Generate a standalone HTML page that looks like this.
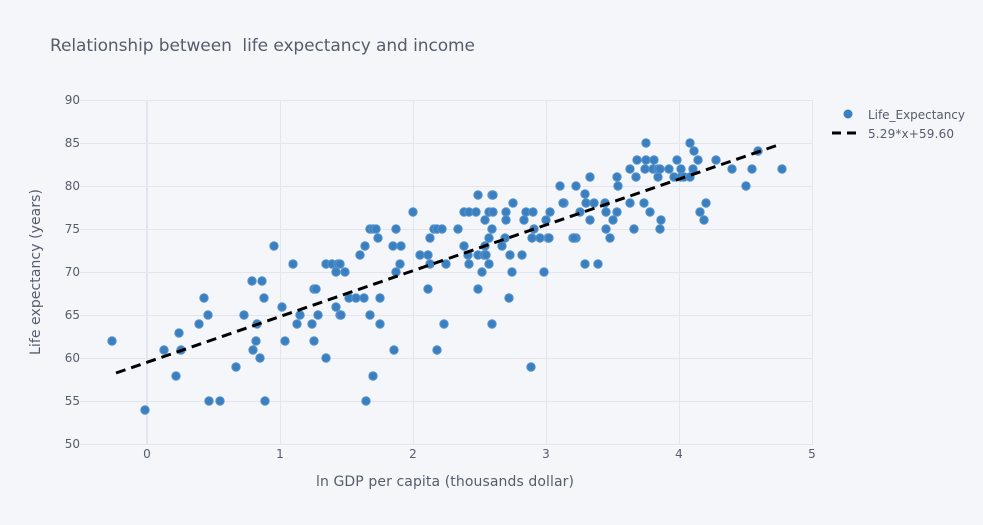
<!DOCTYPE html>
<html><head><meta charset="utf-8"><style>
html,body{margin:0;padding:0;background:#f5f6fa;}
svg{display:block;font-family:"DejaVu Sans","Liberation Sans",sans-serif;}
</style></head><body>
<svg id="s" width="983" height="525" viewBox="0 0 983 525" xmlns="http://www.w3.org/2000/svg">
<rect width="983" height="525" fill="#f5f6fa"/>
<g stroke="#e3e6ee" stroke-width="1">
<line x1="80" x2="813" y1="100.5" y2="100.5"/>
<line x1="80" x2="813" y1="143.5" y2="143.5"/>
<line x1="80" x2="813" y1="186.5" y2="186.5"/>
<line x1="80" x2="813" y1="229.5" y2="229.5"/>
<line x1="80" x2="813" y1="272.5" y2="272.5"/>
<line x1="80" x2="813" y1="315.5" y2="315.5"/>
<line x1="80" x2="813" y1="358.5" y2="358.5"/>
<line x1="80" x2="813" y1="401.5" y2="401.5"/>
<line x1="80" x2="813" y1="444.5" y2="444.5"/>
<line x1="280.5" x2="280.5" y1="100" y2="444"/>
<line x1="413.5" x2="413.5" y1="100" y2="444"/>
<line x1="546.5" x2="546.5" y1="100" y2="444"/>
<line x1="679.5" x2="679.5" y1="100" y2="444"/>
<line x1="812.5" x2="812.5" y1="100" y2="444"/>
</g>
<line x1="147" x2="147" y1="100" y2="444" stroke="#e3e6ee" stroke-width="2"/>
<g fill="#555d6b" font-size="12" text-anchor="end">
<text x="80" y="104">90</text><text x="80" y="147">85</text><text x="80" y="190">80</text>
<text x="80" y="233">75</text><text x="80" y="276">70</text><text x="80" y="319">65</text>
<text x="80" y="362">60</text><text x="80" y="405">55</text><text x="80" y="448">50</text>
</g>
<g fill="#555d6b" font-size="12" text-anchor="middle">
<text x="147" y="458">0</text><text x="280" y="458">1</text><text x="413" y="458">2</text>
<text x="546" y="458">3</text><text x="679" y="458">4</text><text x="812" y="458">5</text>
</g>
<text x="445" y="486" fill="#555d6b" font-size="14" text-anchor="middle" textLength="258">ln GDP per capita (thousands dollar)</text>
<text transform="translate(40,272) rotate(-90)" fill="#555d6b" font-size="14" text-anchor="middle" textLength="166">Life expectancy (years)</text>
<text x="50" y="51" fill="#555d6b" font-size="17" textLength="425">Relationship between&#160; life expectancy and income</text>
<g id="pts" fill="#3a7fbf" stroke="#5894cc" stroke-width="1"></g>
<line x1="116" y1="373" x2="781" y2="144" stroke="#000" stroke-width="3" stroke-dasharray="10,6"/>
<circle cx="848" cy="114" r="4.5" fill="#3a7fbf"/>
<text x="868" y="119" fill="#555d6b" font-size="12" textLength="97">Life_Expectancy</text>
<line x1="832" y1="133" x2="860" y2="133" stroke="#000" stroke-width="3" stroke-dasharray="9,6"/>
<text x="868" y="138" fill="#555d6b" font-size="12" textLength="86">5.29*x+59.60</text>
</svg>
<script>
var p=[[112,341],[145,410],[164,350],[176,376],[179,333],[181,350],[199,324],[204,298],[208,315],[209,401],[220,401],[236,367],[244,315],[252,281],[253,350],[256,341],[257,324],[260,358],[262,281],[264,298],[265,401],[274,246],[282,307],[285,341],[293,264],[297,324],[300,315],[312,324],[314,341],[314,289],[316,289],[318,315],[326,264],[332,264],[336,272],[336,307],[326,358],[338,264],[340,315],
[340,264],[345,272],[341,315],[349,298],[356,298],[364,298],[360,255],[365,246],[370,315],[373,376],[366,401],[370,229],[373,229],[376,229],[378,238],[380,298],[380,324],[393,246],[396,229],[401,246],[400,264],[396,272],[394,350],[413,212],[420,255],[428,255],[430,264],[428,289],[430,238],[434,229],[437,229],[442,229],[446,264],[444,324],[437,350],[458,229],[464,246],[464,212],[469,212],[476,212],[478,195],[468,255],[469,264],[478,255],[484,255],[486,255],[482,272],[478,289],[485,220],[489,238],[485,246],[489,264],[492,229],[492,195],[493,195],[489,212],[493,212],[492,324],[502,246],[505,238],[506,212],[506,220],[510,255],[512,272],[509,298],[513,203],[522,255],[524,220],[526,212],[533,212],[532,238],[540,238],[534,229],[531,367],[544,272],[546,220],[548,238],[549,238],[550,212],[560,186],[564,203],[576,186],[573,238],[576,238],[580,212],
[563,203],[585,194],[586,203],[590,177],[594,203],[590,220],[605,203],[606,212],[606,229],[613,220],[617,177],[618,186],[617,212],[610,238],[574,238],[585,264],[598,264],[630,169],[630,203],[637,160],[636,177],[634,229],[644,203],[646,143],[646,160],[645,169],[650,212],[654,160],[653,169],[658,169],[660,169],[658,177],[661,220],[660,229],[669,169],[677,160],[681,169],[674,177],[681,177],[684,177],[690,143],[694,151],[698,160],[693,169],[690,177],[706,203],[700,212],[704,220],[716,160],[732,169],[746,186],[752,169],[758,151],[782,169]];
var g=document.getElementById('pts'),h='';
p.forEach(function(a){h+='<circle cx="'+a[0]+'" cy="'+a[1]+'" r="4.2"/>';});
g.innerHTML=h;
</script>
</body></html>
